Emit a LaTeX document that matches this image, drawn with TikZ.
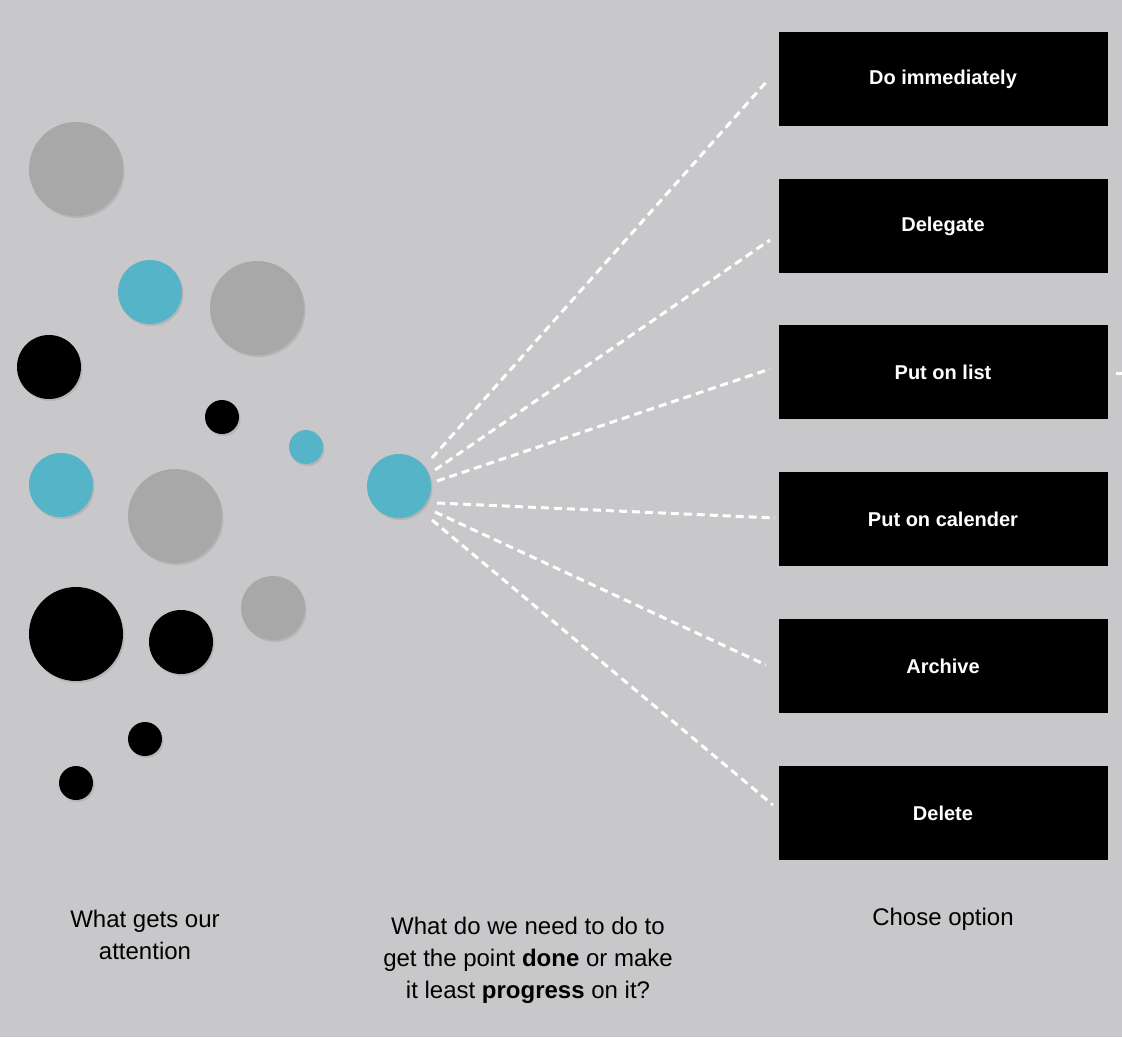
\documentclass[tikz,border=0pt]{standalone}
\usepackage{fontspec}
\setmainfont{Liberation Sans}
\usetikzlibrary{shadows}
\definecolor{bg}{HTML}{C8C8CA}
\definecolor{cy}{HTML}{56B4C8}
\definecolor{gr}{HTML}{A8A8A8}
\begin{document}
\begin{tikzpicture}[x=1pt,y=-1pt,
  dot/.style={circle,inner sep=0pt,minimum size=#1,drop shadow={shadow xshift=1.5pt,shadow yshift=-2pt,opacity=0.25}},
  box/.style={fill=black,minimum width=329pt,minimum height=94pt,text=white,font=\bfseries\fontsize{20}{24}\selectfont},
  link/.style={white,line width=3pt,dash pattern=on 8pt off 5pt},
  lab/.style={align=center,font=\fontsize{24}{32}\selectfont}]
\fill[bg] (0,0) rectangle (1122,1037);
\useasboundingbox (0,0) rectangle (1122,1037);
\node[dot=94pt,fill=gr] (g1) at (76,169) {};
\node[dot=64pt,fill=cy] (c1) at (150,292) {};
\node[dot=94pt,fill=gr] (g2) at (257,308) {};
\node[dot=64pt,fill=black] (b1) at (49,367) {};
\node[dot=34pt,fill=black] (b2) at (222,417) {};
\node[dot=34pt,fill=cy] (c2) at (306,447) {};
\node[dot=64pt,fill=cy] (c3) at (61,485) {};
\node[dot=94pt,fill=gr] (g3) at (175,516) {};
\node[dot=64pt,fill=gr] (g4) at (273,608) {};
\node[dot=94pt,fill=black] (b3) at (76,634) {};
\node[dot=64pt,fill=black] (b4) at (181,642) {};
\node[dot=34pt,fill=black] (b5) at (145,739) {};
\node[dot=34pt,fill=black] (b6) at (76,783) {};
\node[dot=64pt,fill=cy] (m) at (399,486) {};
\node[box] (o1) at (943,79) {Do immediately};
\node[box] (o2) at (943,226) {Delegate};
\node[box] (o3) at (943,372) {Put on list};
\node[box] (o4) at (943,519) {Put on calender};
\node[box] (o5) at (943,666) {Archive};
\node[box] (o6) at (943,813) {Delete};
\coordinate (e1) at (768,80);
\coordinate (e2) at (770,240);
\coordinate (e3) at (770,369);
\coordinate (e4) at (775,518);
\coordinate (e5) at (766,665);
\coordinate (e6) at (773,805);
\draw[link] (432,458) -- (e1);
\draw[link] (435,470) -- (e2);
\draw[link] (437,481) -- (e3);
\draw[link] (437,503) -- (e4);
\draw[link] (435,512) -- (e5);
\draw[link] (432,520) -- (e6);
\coordinate (r1) at (1116,373);
\coordinate (r2) at (1122,373);
\draw[link] (r1) -- (r2);
\node[lab] (t1) at (145,935) {What gets our\\attention};
\node[lab] (t2) at (528,960) {What do we need to do to\\get the point \textbf{done} or make\\it least \textbf{progress} on it?};
\node[lab] (t3) at (943,919) {Chose option};
\end{tikzpicture}
\end{document}
